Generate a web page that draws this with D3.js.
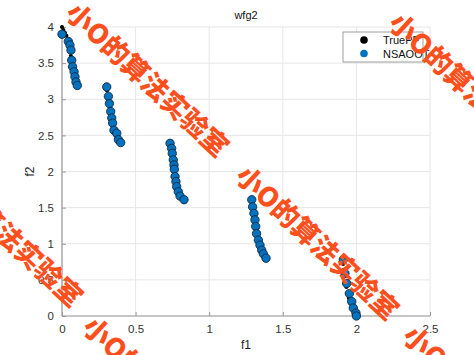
<!DOCTYPE html>
<html>
<head>
<meta charset="utf-8">
<script src="https://cdn.jsdelivr.net/npm/d3@7"></script>
<style>
  body { margin: 0; background: #fff; }
  text { font-family: "Liberation Sans", Arial, sans-serif; }
</style>
</head>
<body>
<svg id="svg1" width="474" height="355"></svg>
<script>
const svg1 = d3.select('#svg1');

const width = +svg1.attr('width');
const height = +svg1.attr('height');

// TruePF (black dots)
const pfF1 = [0, 0.01, 0.02, 0.03, 0.04, 0.045, 0.05, 0.055, 0.06, 0.065, 0.07, 0.075, 0.08, 0.087, 0.094, 0.101, 0.106,
  0.302, 0.306, 0.31, 0.315, 0.32, 0.326, 0.332, 0.338, 0.345, 0.352, 0.36, 0.37, 0.38, 0.392, 0.40,
  0.733, 0.738, 0.742, 0.747, 0.751, 0.756, 0.761, 0.767, 0.773, 0.781, 0.79, 0.80, 0.812, 0.828,
  1.288, 1.292, 1.297, 1.302, 1.307, 1.312, 1.318, 1.324, 1.332, 1.34, 1.35, 1.362, 1.375, 1.388,
  1.905, 1.91, 1.915, 1.92, 1.926, 1.932, 1.94, 1.948, 1.958, 1.968, 1.98, 1.992, 2.0];
const pfF2 = [4.0, 3.96, 3.92, 3.88, 3.83, 3.78, 3.72, 3.66, 3.60, 3.54, 3.48, 3.42, 3.37, 3.31, 3.25, 3.20, 3.17,
  3.20, 3.12, 3.05, 2.98, 2.91, 2.84, 2.77, 2.70, 2.63, 2.57, 2.51, 2.46, 2.42, 2.39, 2.38,
  2.40, 2.33, 2.26, 2.19, 2.12, 2.05, 1.98, 1.91, 1.84, 1.77, 1.71, 1.66, 1.62, 1.60,
  1.62, 1.55, 1.48, 1.41, 1.34, 1.27, 1.20, 1.13, 1.06, 0.99, 0.93, 0.87, 0.82, 0.79,
  0.80, 0.72, 0.64, 0.56, 0.48, 0.40, 0.32, 0.25, 0.18, 0.12, 0.06, 0.02, 0.0];

// NSAOOT (blue circles)
const algF1 = [0, 0.043, 0.054, 0.061, 0.066, 0.072, 0.082, 0.088, 0.095, 0.104,
  0.304, 0.315, 0.322, 0.331, 0.338, 0.344, 0.353, 0.372, 0.383, 0.399,
  0.734, 0.745, 0.749, 0.756, 0.761, 0.763, 0.768, 0.774, 0.779, 0.790, 0.802, 0.829,
  1.289, 1.295, 1.304, 1.311, 1.316, 1.322, 1.334, 1.345, 1.357, 1.368, 1.386,
  1.911, 1.922, 1.934, 1.952, 1.968, 1.979, 1.997, 2.0];
const algF2 = [3.9, 3.80, 3.75, 3.68, 3.54, 3.45, 3.38, 3.31, 3.24, 3.19,
  3.17, 3.04, 2.94, 2.83, 2.74, 2.67, 2.57, 2.53, 2.44, 2.40,
  2.39, 2.32, 2.25, 2.16, 2.09, 2.03, 1.93, 1.86, 1.79, 1.72, 1.66, 1.61,
  1.61, 1.51, 1.42, 1.33, 1.24, 1.14, 1.05, 0.98, 0.91, 0.86, 0.80,
  0.78, 0.59, 0.45, 0.31, 0.20, 0.11, 0.04, 0.0];

const xTicks = [0, 0.5, 1, 1.5, 2, 2.5];
const yTicks = [0, 0.5, 1, 1.5, 2, 2.5, 3, 3.5, 4];
const legendLabels = ['TruePF', 'NSAOOT'];
const watermark = '小O的算法实验室';
const title = 'wfg2';

const margin = { top: 27, right: 44, bottom: 39, left: 62 };
const innerWidth = width - margin.left - margin.right;
const innerHeight = height - margin.top - margin.bottom;

const xScale = d3.scaleLinear().domain([0, 2.5]).range([0, innerWidth]);
const yScale = d3.scaleLinear().domain([0, 4]).range([innerHeight, 0]);

svg1.append('rect').attr('width', width).attr('height', height).attr('fill', '#fff');

const g = svg1.append('g')
  .attr('transform', `translate(${margin.left},${margin.top})`);

// grid
g.append('g').selectAll('line').data(xTicks).enter().append('line')
  .attr('x1', d => xScale(d)).attr('x2', d => xScale(d))
  .attr('y1', 0).attr('y2', innerHeight)
  .attr('stroke', '#e6e6e6').attr('stroke-width', 1);
g.append('g').selectAll('line').data(yTicks).enter().append('line')
  .attr('y1', d => yScale(d)).attr('y2', d => yScale(d))
  .attr('x1', 0).attr('x2', innerWidth)
  .attr('stroke', '#e6e6e6').attr('stroke-width', 1);

// axes
const xAxis = d3.axisBottom(xScale).tickValues(xTicks).tickFormat(d3.format('')).tickSize(-4).tickPadding(9);
const yAxis = d3.axisLeft(yScale).tickValues(yTicks).tickFormat(d3.format('')).tickSize(-4).tickPadding(8);

const xAxisG = g.append('g').attr('transform', `translate(0,${innerHeight})`).call(xAxis);
const yAxisG = g.append('g').call(yAxis);
[xAxisG, yAxisG].forEach(a => {
  a.select('.domain').attr('stroke', '#999').attr('stroke-width', 1.2);
  a.selectAll('.tick line').attr('stroke', '#999');
  a.selectAll('.tick text').attr('fill', '#333').style('font-size', '11.5px');
});
xAxisG.select('.domain').attr('d', `M0,0H${innerWidth}`);
yAxisG.select('.domain').attr('d', `M0,${innerHeight}V0`);

xAxisG.append('text')
  .attr('x', innerWidth / 2).attr('y', 33)
  .attr('fill', '#222').attr('text-anchor', 'middle')
  .style('font-size', '12px').text('f1');

yAxisG.append('text')
  .attr('transform', 'rotate(-90)')
  .attr('x', -innerHeight / 2).attr('y', -28)
  .attr('fill', '#222').attr('text-anchor', 'middle')
  .style('font-size', '12px').text('f2');

g.append('text')
  .attr('x', innerWidth / 2).attr('y', -8)
  .attr('text-anchor', 'middle').attr('fill', '#111')
  .style('font-size', '11px').text(title);

// TruePF
const pfData = pfF1.map((d, i) => ({ x: d, y: pfF2[i] }));
g.selectAll('.pf').data(pfData).enter().append('circle')
  .attr('class', 'pf')
  .attr('cx', d => xScale(d.x)).attr('cy', d => yScale(d.y))
  .attr('r', 2).attr('fill', '#000');

// NSAOOT
const algData = algF1.map((d, i) => ({ x: d, y: algF2[i] }));
g.selectAll('.alg').data(algData).enter().append('circle')
  .attr('class', 'alg')
  .attr('cx', d => xScale(d.x)).attr('cy', d => yScale(d.y))
  .attr('r', 4.2).attr('fill', '#0072BD')
  .attr('stroke', '#0a1e33').attr('stroke-width', 0.8);

// legend
const lg = svg1.append('g').attr('transform', 'translate(343,32)');
lg.append('rect').attr('width', 80).attr('height', 30)
  .attr('fill', '#fff').attr('stroke', '#888').attr('stroke-width', 0.8);
const legendColors = ['#000', '#0072BD'];
legendLabels.forEach((lab, i) => {
  lg.append('circle').attr('cx', 21).attr('cy', 8 + i * 13.5).attr('r', 3.8)
    .attr('fill', legendColors[i]);
  lg.append('text').attr('x', 40).attr('y', 12 + i * 13.5)
    .attr('fill', '#111').style('font-size', '11px').text(lab);
});

// watermark
const wmPos = [[80, 17], [403, 27], [250, 180], [-66, 167], [97, 331], [417, 340]];
svg1.append('g').selectAll('text').data(wmPos).enter().append('text')
  .attr('transform', d => `translate(${d[0]},${d[1]}) rotate(43)`)
  .attr('x', -13).attr('dy', '0.36em')
  .attr('fill', '#ff4f1c')
  .style('font-family', '"Noto Sans CJK SC", sans-serif')
  .style('font-weight', '900')
  .style('font-size', '27px')
  .text(watermark);
</script>
</body>
</html>
